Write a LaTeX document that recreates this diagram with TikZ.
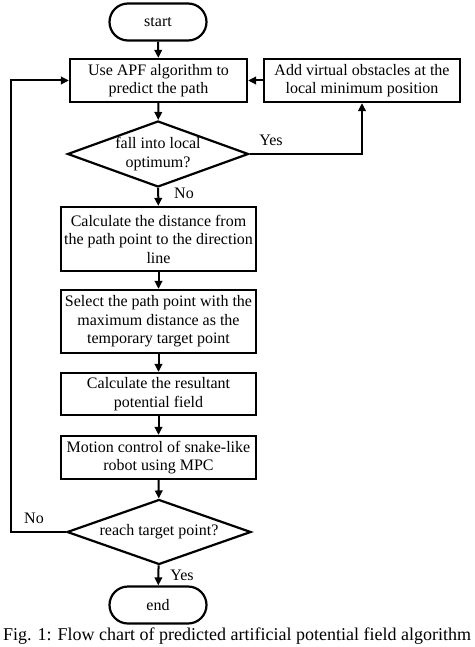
\documentclass[tikz,border=0pt]{standalone}
\usepackage{fontspec}
\setmainfont{Liberation Serif}
\usetikzlibrary{shapes.geometric,shapes.misc,arrows.meta}
\begin{document}
\begin{tikzpicture}[x=1pt,y=-1pt,
  every node/.style={font=\fontsize{16}{18.5}\selectfont},
  proc/.style={draw,line width=2.2pt,rectangle,align=center,inner sep=0pt},
  term/.style={draw,line width=2.2pt,rounded rectangle,minimum width=97pt,minimum height=37pt,inner sep=0pt},
  dia/.style={draw,line width=2.2pt,diamond,inner sep=0pt,minimum width=181pt,minimum height=66pt},
  conn/.style={line width=2pt,-{Triangle[length=8pt,width=7.5pt]}},
  lbl/.style={inner sep=0pt}]
\useasboundingbox (0,0) rectangle (474,647);
\node[term] (start) at (158,22) {start};
\node[proc,minimum width=177pt,minimum height=43pt] (apf) at (158.5,80.5) {Use APF algorithm to\\predict the path};
\node[proc,minimum width=196pt,minimum height=43pt] (add) at (362,80.5) {Add virtual obstacles at the\\local minimum position};
\node[dia] (d1) at (158,154) {};
\node[align=center,inner sep=0pt] (d1t) at (158,154) {fall into local\\optimum?};
\node[proc,minimum width=195pt,minimum height=64pt] (dist) at (158.5,239) {Calculate the distance from\\the path point to the direction\\line};
\node[proc,minimum width=195pt,minimum height=63pt] (sel) at (158.5,321.5) {Select the path point with the\\maximum distance as the\\temporary target point};
\node[proc,minimum width=195pt,minimum height=42pt] (pot) at (158.5,394) {Calculate the resultant\\potential field};
\node[proc,minimum width=195pt,minimum height=43pt] (mpc) at (158.5,457.5) {Motion control of snake-like\\robot using MPC};
\node[dia,minimum width=184pt,minimum height=65pt] (d2) at (159,532) {};
\node[inner sep=0pt] (d2t) at (159,532) {reach target point?};
\node[term] (end) at (158,605) {end};
\coordinate (c1) at (362,154);
\coordinate (c2) at (11,532);
\coordinate (c3) at (11,80.5);
\draw[conn] (start) -- (apf);
\draw[conn] (apf) -- (d1);
\draw[conn] (d1.east) -- (c1) -- (add.south);
\draw[conn] (add) -- (apf);
\draw[conn] (d1) -- (dist);
\draw[conn] (dist) -- (sel);
\draw[conn] (sel) -- (pot);
\draw[conn] (pot) -- (mpc);
\draw[conn] (mpc) -- (d2);
\draw[conn] (d2) -- (end);
\draw[conn] (d2.west) -- (c2) -- (c3) -- (apf.west);
\node[lbl] (yes1) at (271,140) {Yes};
\node[lbl] (no1) at (184,193) {No};
\node[lbl] (no2) at (34,518) {No};
\node[lbl] (yes2) at (182,575) {Yes};
\node[inner sep=0pt,font=\fontsize{18}{20}\selectfont] (cap) at (237,636) {Fig. 1: Flow chart of predicted artificial potential field algorithm};
\end{tikzpicture}
\end{document}
